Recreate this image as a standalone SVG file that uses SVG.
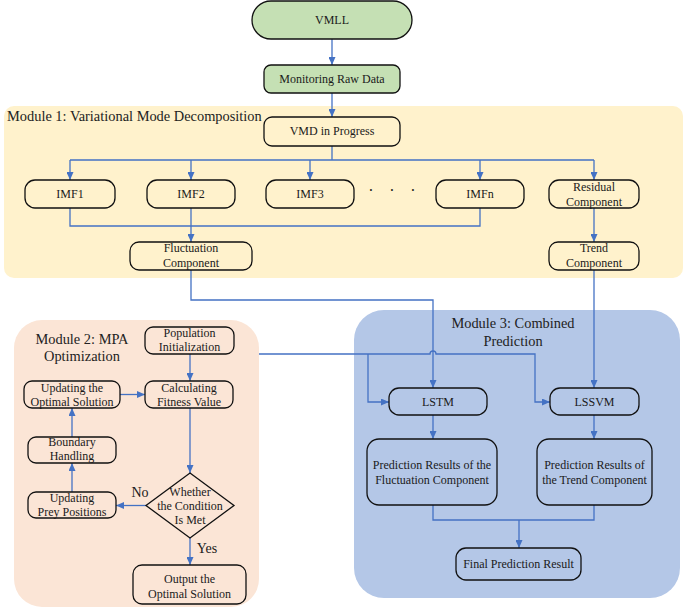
<svg xmlns="http://www.w3.org/2000/svg" width="685" height="610" viewBox="0 0 685 610">
<style>
text{font-family:"Liberation Serif","Times New Roman",serif;font-size:12px;fill:#1a1a1a;text-anchor:middle}
.title{font-size:14.4px;fill:#222}
.lbl{font-size:14px}
.node{stroke:#111;stroke-width:1.3}
.g{fill:#C5E0B4}
.y{fill:#FFF2CC}
.o{fill:#FBE5D6}
.b{fill:#B4C7E7}
.c{fill:none;stroke:#4472C4;stroke-width:1.3}
.a{marker-end:url(#arr)}
</style>
<defs>
<marker id="arr" markerUnits="userSpaceOnUse" markerWidth="8" markerHeight="7" refX="8" refY="3.5" orient="auto">
<path d="M0,0 L8,3.5 L0,7 z" fill="#4472C4"/>
</marker>
</defs>

<g id="module1">
<rect x="4" y="106" width="679" height="172" rx="10" class="y"/>
<text class="title" x="7" y="121" style="text-anchor:start">Module 1: Variational Mode Decomposition</text>
</g>
<g id="module2">
<rect x="14" y="320" width="245" height="287" rx="28" class="o"/>
<text class="title" x="82" y="344">Module 2: MPA</text>
<text class="title" x="82" y="361">Optimization</text>
</g>
<g id="module3">
<rect x="354" y="310" width="326" height="288" rx="30" class="b"/>
<text class="title" x="513" y="328">Module 3: Combined</text>
<text class="title" x="513" y="346">Prediction</text>
</g>

<g id="connectors">
<path class="c a" d="M332 39 V65"/>
<path class="c a" d="M332 93 V117"/>
<path class="c" d="M332 146 V160 M70 160 H594"/>
<path class="c a" d="M70 160 V180"/>
<path class="c a" d="M191 160 V180"/>
<path class="c a" d="M310 160 V180"/>
<path class="c a" d="M480 160 V180"/>
<path class="c a" d="M594 160 V180"/>
<path class="c" d="M70 208 V226 H480 V208"/>
<path class="c a" d="M191 208 V242"/>
<path class="c a" d="M594 208 V242"/>
<path class="c a" d="M191 270 V300 H433 V388"/>
<path class="c a" d="M594 270 V388"/>
<path class="c a" d="M259 354 H430 A3 3 0 0 1 436 354 H535 V402 H550"/>
<path class="c a" d="M368 354 V402 H389"/>
<path class="c a" d="M190 354 V381"/>
<path class="c a" d="M120 394.5 H145"/>
<path class="c a" d="M72 437 V408"/>
<path class="c a" d="M72 492 V463"/>
<path class="c a" d="M190 408 V473"/>
<path class="c a" d="M146 505.5 H116"/>
<path class="c a" d="M190 538 V565"/>
<path class="c a" d="M433 415 V439"/>
<path class="c a" d="M594 415 V439"/>
<path class="c" d="M433 505 V520 H594 V505"/>
<path class="c a" d="M519 520 V548"/>
<text class="lbl" x="140" y="497">No</text>
<text class="lbl" x="207" y="553">Yes</text>
</g>

<g id="vmll"><rect class="node g" x="252" y="1" width="160" height="38" rx="19"/><text x="332" y="24">VMLL</text></g>
<g id="raw"><rect class="node g" x="264" y="65" width="136" height="28" rx="7"/><text x="332" y="83">Monitoring Raw Data</text></g>
<g id="vmd"><rect class="node y" x="264" y="117" width="136" height="29" rx="8"/><text x="332" y="135">VMD in Progress</text></g>
<g id="imf1"><rect class="node y" x="25" y="180" width="90" height="28" rx="10"/><text x="70" y="198">IMF1</text></g>
<g id="imf2"><rect class="node y" x="147" y="180" width="88" height="28" rx="10"/><text x="191" y="198">IMF2</text></g>
<g id="imf3"><rect class="node y" x="266" y="180" width="88" height="28" rx="10"/><text x="310" y="198">IMF3</text></g>
<g id="dots"><text x="371 392 413" y="196" style="font-size:16px;text-anchor:middle">···</text></g>
<g id="imfn"><rect class="node y" x="436" y="180" width="88" height="28" rx="10"/><text x="480" y="198">IMFn</text></g>
<g id="residual"><rect class="node y" x="549" y="180" width="90" height="28" rx="10"/><text x="594" y="191">Residual</text><text x="594" y="206">Component</text></g>
<g id="fluct"><rect class="node y" x="130" y="242" width="122" height="28" rx="9"/><text x="191" y="252">Fluctuation</text><text x="191" y="267">Component</text></g>
<g id="trend"><rect class="node y" x="549" y="242" width="90" height="28" rx="9"/><text x="594" y="252">Trend</text><text x="594" y="267">Component</text></g>

<g id="pop"><rect class="node o" x="145" y="327" width="89" height="27" rx="8"/><text x="189.5" y="337">Population</text><text x="189.5" y="351">Initialization</text></g>
<g id="calc"><rect class="node o" x="145" y="381" width="88" height="27" rx="8"/><text x="189" y="392">Calculating</text><text x="189" y="406">Fitness Value</text></g>
<g id="updopt"><rect class="node o" x="24" y="381" width="96" height="27" rx="8"/><text x="72" y="392">Updating the</text><text x="72" y="406">Optimal Solution</text></g>
<g id="boundary"><rect class="node o" x="28" y="437" width="88" height="26" rx="8"/><text x="72" y="446">Boundary</text><text x="72" y="460">Handling</text></g>
<g id="prey"><rect class="node o" x="28" y="492" width="88" height="26" rx="8"/><text x="72" y="502">Updating</text><text x="72" y="516">Prey Positions</text></g>
<g id="cond"><path class="node o" d="M190 473 L234 505.5 L190 538 L146 505.5 Z"/><text x="190" y="496">Whether</text><text x="190" y="510">the Condition</text><text x="190" y="524">Is Met</text></g>
<g id="output"><rect class="node o" x="133" y="565" width="113" height="39" rx="9"/><text x="189.5" y="583">Output the</text><text x="189.5" y="598">Optimal Solution</text></g>

<g id="lstm"><rect class="node b" x="389" y="388" width="98" height="27" rx="10"/><text x="438" y="406">LSTM</text></g>
<g id="lssvm"><rect class="node b" x="550" y="388" width="89" height="27" rx="10"/><text x="594.5" y="406">LSSVM</text></g>
<g id="prf"><rect class="node b" x="367" y="439" width="130" height="66" rx="12"/><text x="432" y="469">Prediction Results of the</text><text x="432" y="484">Fluctuation Component</text></g>
<g id="prt"><rect class="node b" x="537" y="439" width="115" height="66" rx="12"/><text x="594.5" y="469">Prediction Results of</text><text x="594.5" y="484">the Trend Component</text></g>
<g id="final"><rect class="node b" x="456" y="548" width="125" height="32" rx="10"/><text x="518.5" y="568">Final Prediction Result</text></g>
</svg>
